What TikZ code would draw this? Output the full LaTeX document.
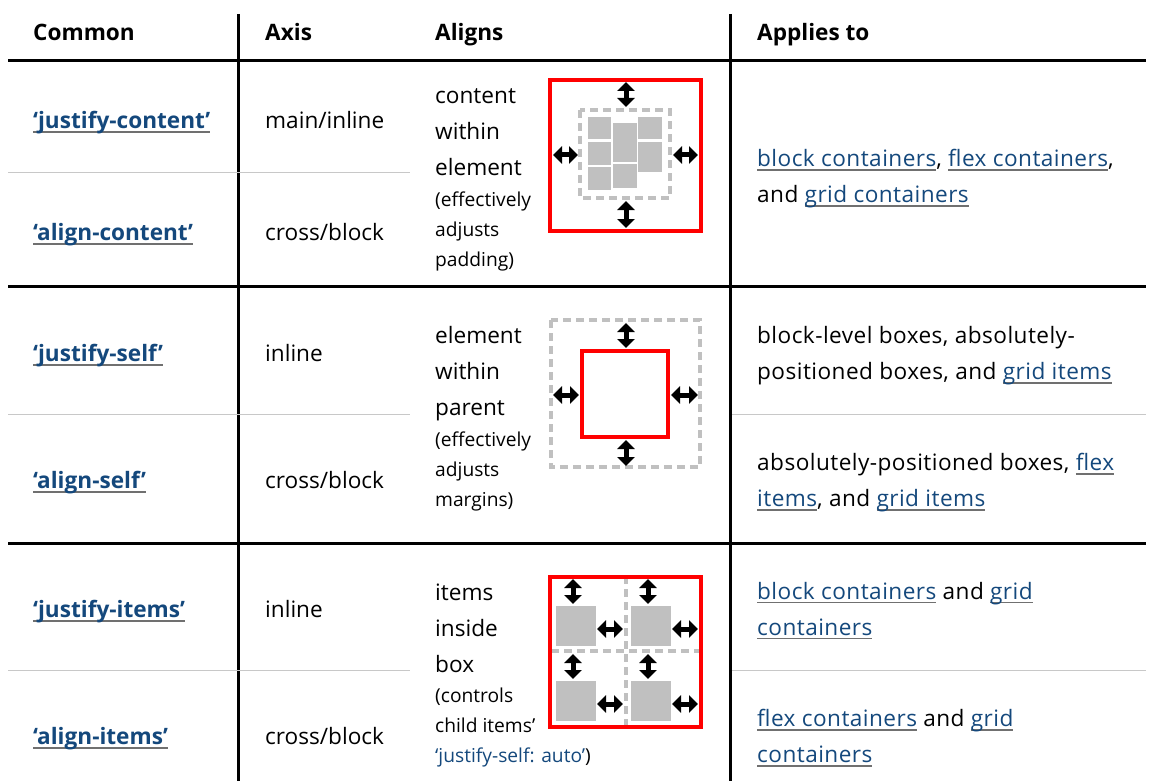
\documentclass[tikz,border=0pt]{standalone}
\usepackage{fontspec}
\setmainfont{Open Sans}
\usetikzlibrary{arrows.meta}
\definecolor{linkblue}{RGB}{20,72,124}
\definecolor{linegray}{RGB}{112,112,112}
\definecolor{boxgray}{RGB}{192,192,192}
\definecolor{rulegray}{RGB}{200,200,200}
\newsavebox\lnkbox
\newcommand\lnk[1]{\leavevmode\sbox\lnkbox{\color{linkblue}#1}\rlap{\color{linegray}\rule[-3.8pt]{\wd\lnkbox}{1.7pt}}\usebox\lnkbox}
\newcommand\prop[1]{\textbf{\lnk{‘#1’}}}
\begin{document}
\begin{tikzpicture}%
	[x=1pt,y=-1pt,
	txt/.style={anchor=west,inner sep=0pt,align=left,font=\fontsize{22.6}{36}\selectfont},
	wide/.style={txt,font=\fontsize{22.6}{36}\selectfont\addfontfeature{LetterSpace=2}},
	small/.style={anchor=west,inner sep=0pt,align=left,font=\fontsize{19.2}{30}\selectfont},
	head/.style={anchor=west,inner sep=0pt,font=\fontsize{22.6}{36}\selectfont\bfseries},
	frame/.style={color=black,line width=3pt},
	sep/.style={color=rulegray,line width=1pt},
	redbox/.style={draw=red,line width=4pt},
	dashbox/.style={draw=boxgray,line width=3.5pt,dash pattern=on 8pt off 5pt},
	item/.style={fill=boxgray},
	dbl/.style={{Triangle[width=17pt,length=9pt]}-{Triangle[width=17pt,length=9pt]},line width=5pt}]
	\useasboundingbox (0,0) rectangle (1149,781);

	%table rules
	\draw[frame] (8,61) -- (1146,61);
	\draw[frame] (8,286) -- (1146,286);
	\draw[frame] (8,543) -- (1146,543);
	\draw[frame] (238,14) -- (238,781);
	\draw[frame] (730,14) -- (730,781);
	\draw[sep] (8,173) -- (410,173);
	\draw[sep] (8,414) -- (410,414);
	\draw[sep] (732,414) -- (1146,414);
	\draw[sep] (8,670) -- (410,670);
	\draw[sep] (732,670) -- (1146,670);

	%header
	\node[head] (hcommon) at (33,32) {Common};
	\node[head] (haxis) at (265,32) {Axis};
	\node[head] (haligns) at (435,35) {Aligns};
	\node[head] (happlies) at (757,35) {Applies to};

	%properties
	\node[txt] (jc) at (33,123) {\prop{justify-content}};
	\node[txt] (ac) at (33,235) {\prop{align-content}};
	\node[txt] (js) at (33,356) {\prop{justify-self}};
	\node[txt] (as) at (33,483) {\prop{align-self}};
	\node[txt] (ji) at (33,612) {\prop{justify-items}};
	\node[txt] (ai) at (33,739) {\prop{align-items}};

	%axes
	\node[txt] (jcaxis) at (265,120) {main/inline};
	\node[txt] (acaxis) at (265,232) {cross/block};
	\node[txt] (jsaxis) at (265,353) {inline};
	\node[txt] (asaxis) at (265,480) {cross/block};
	\node[txt] (jiaxis) at (265,609) {inline};
	\node[txt] (aiaxis) at (265,736) {cross/block};

	%aligns
	\node[txt] (contentalign) at (435,132) {content\\within\\element};
	\node[small] (contentnote) at (435,231) {(effectively\\adjusts\\padding)};
	\node[txt] (selfalign) at (435,374) {element\\within\\parent};
	\node[small] (selfnote) at (435,471) {(effectively\\adjusts\\margins)};
	\node[txt] (itemsalign) at (435,628) {items\\inside\\box};
	\node[small] (itemsnote) at (435,728) {(controls\\child items’\\{\color{linkblue}‘justify-self: auto’})};

	%applies to
	\node[wide] (contentapplies) at (757,179) {\lnk{block containers}, \lnk{flex containers},\\and \lnk{grid containers}};
	\node[wide] (jsapplies) at (757,356) {block-level boxes, absolutely-\\positioned boxes, and \lnk{grid items}};
	\node[wide] (asapplies) at (757,483) {absolutely-positioned boxes, \lnk{flex}\\\lnk{items}, and \lnk{grid items}};
	\node[wide] (jiapplies) at (757,611) {\lnk{block containers} and \lnk{grid}\\\lnk{containers}};
	\node[wide] (aiapplies) at (757,738) {\lnk{flex containers} and \lnk{grid}\\\lnk{containers}};

	%content sketch
	\draw[redbox] (550,80) rectangle (701,231);
	\draw[dashbox] (580,110) rectangle (670,198);
	\fill[item] (588,117) rectangle (611,139);
	\fill[item] (588,142) rectangle (611,165);
	\fill[item] (588,167) rectangle (611,190);
	\fill[item] (613,123) rectangle (637,162);
	\fill[item] (613,164) rectangle (637,188);
	\fill[item] (638,117) rectangle (662,139);
	\fill[item] (638,142) rectangle (662,172);
	\draw[dbl] (626,82) -- (626,107);
	\draw[dbl] (626,201) -- (626,228);
	\draw[dbl] (553,155) -- (578,155);
	\draw[dbl] (673,155) -- (698,155);

	%self sketch
	\draw[dashbox] (551,320) rectangle (700,467);
	\draw[redbox] (582,351) rectangle (668,437);
	\draw[dbl] (626,323) -- (626,348);
	\draw[dbl] (626,440) -- (626,466);
	\draw[dbl] (553,395) -- (579,395);
	\draw[dbl] (671,395) -- (698,395);

	%items sketch
	\draw[dashbox] (626,576) -- (626,727);
	\draw[dashbox] (551,651) -- (700,651);
	\draw[redbox] (550,577) rectangle (701,727);
	\foreach \cx/\cy in {556/606, 631/606, 556/681, 631/681}{
		\fill[item] (\cx,\cy) rectangle ++(40,40);
		\draw[dbl] (\cx+17,\cy-27) -- (\cx+17,\cy-2);
		\draw[dbl] (\cx+41,\cy+23) -- (\cx+67,\cy+23);
	}
\end{tikzpicture}
\end{document}
